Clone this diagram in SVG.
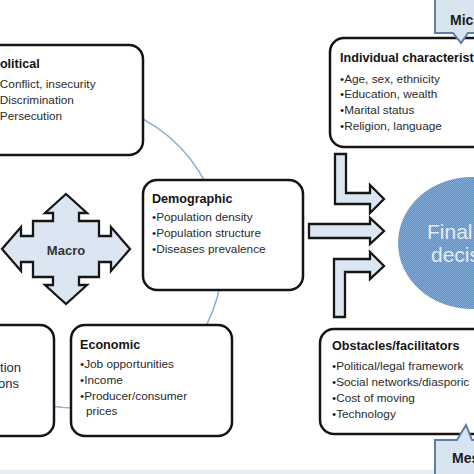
<svg xmlns="http://www.w3.org/2000/svg" width="474" height="474" viewBox="0 0 474 474">
<defs>
<pattern id="dither" width="2" height="2" patternUnits="userSpaceOnUse">
<rect width="2" height="2" fill="#5a8ecb"/>
<rect width="1" height="1" fill="#86aedb"/>
<rect x="1" y="1" width="1" height="1" fill="#86aedb"/>
</pattern>
<style>
.box{fill:#ffffff;stroke:#141414;stroke-width:2.5}
.title{font-family:"Liberation Sans",Arial,sans-serif;font-weight:bold;font-size:12.6px;fill:#141414}
.item{font-family:"Liberation Sans",Arial,sans-serif;font-size:11.8px;fill:#2a2a2a}
.blk{fill:#dce6f2;stroke:#161616;stroke-width:2.3;stroke-linejoin:miter}
.call{fill:#d9e4f1;stroke:#5d7fa6;stroke-width:2}
.calltxt{font-family:"Liberation Sans",Arial,sans-serif;font-weight:bold;font-size:14px;fill:#1c1c1c}
.ring{fill:none;stroke:#8fb1d6;stroke-width:1.6}
.big{font-family:"Liberation Sans",Arial,sans-serif;font-size:21px;fill:#e2eaf4}
</style>
</defs>
<rect width="474" height="474" fill="#ffffff"/>
<rect x="0" y="470" width="474" height="4" fill="#e6ecf3"/>

<g id="connectors">
<ellipse class="ring" cx="75" cy="255" rx="148" ry="153"/>
<path class="blk" d="M335,154 H346 V193 H370 V185 L384,199 L370,213 V204 H335 Z"/>
<path class="blk" d="M309,224 H370 V218 L384,231 L370,244 V238 H309 Z"/>
<path class="blk" d="M334,259 H370 V252 L384,266 L370,279 V272 H345 V317 H334 Z"/>
</g>

<g id="macro">
<path class="blk" d="M66,194 L87,213 L79,213 L79,221 L99,221 L99,236 L111,236 L111,227 L130,249 L111,271 L111,262 L99,262 L99,277 L79,277 L79,285 L87,285 L66,304 L45,285 L53,285 L53,277 L33,277 L33,262 L21,262 L21,271 L2,249 L21,227 L21,236 L33,236 L33,221 L53,221 L53,213 L45,213 Z"/>
<text x="66" y="255" text-anchor="middle" style="font-family:'Liberation Sans',Arial,sans-serif;font-weight:bold;font-size:13px;fill:#333333">Macro</text>
</g>

<g id="political">
<rect class="box" x="-20" y="45" width="163" height="110" rx="14"/>
<text class="title" x="-8.5" y="68">Political</text>
<text class="item" x="-4.3" y="88">•Conflict, insecurity</text>
<text class="item" x="-4.3" y="104">•Discrimination</text>
<text class="item" x="-4.3" y="120">•Persecution</text>
</g>

<g id="demographic">
<rect class="box" x="143" y="180" width="160" height="110" rx="14"/>
<text class="title" x="152" y="203">Demographic</text>
<text class="item" x="152" y="221">•Population density</text>
<text class="item" x="152" y="237">•Population structure</text>
<text class="item" x="152" y="253">•Diseases prevalence</text>
</g>

<g id="environmental">
<rect class="box" x="-20" y="325" width="74" height="111" rx="14"/>
<text x="21" y="372" text-anchor="end" style="font-family:'Liberation Sans',Arial,sans-serif;font-size:13px;fill:#2a2a2a">ction</text>
<text x="19" y="388" text-anchor="end" style="font-family:'Liberation Sans',Arial,sans-serif;font-size:13px;fill:#2a2a2a">ons</text>
</g>

<g id="economic">
<rect class="box" x="71" y="325" width="161" height="111" rx="14"/>
<text class="title" x="80" y="349">Economic</text>
<text class="item" x="80" y="368">•Job opportunities</text>
<text class="item" x="80" y="384">•Income</text>
<text class="item" x="80" y="400">•Producer/consumer</text>
<text class="item" x="86" y="415">prices</text>
</g>

<g id="individual">
<rect class="box" x="330" y="38" width="170" height="109" rx="14"/>
<text class="title" x="340" y="62">Individual characteristics</text>
<text class="item" x="340" y="83">•Age, sex, ethnicity</text>
<text class="item" x="340" y="98">•Education, wealth</text>
<text class="item" x="340" y="114">•Marital status</text>
<text class="item" x="340" y="130">•Religion, language</text>
</g>

<g id="obstacles">
<rect class="box" x="320" y="329" width="180" height="105" rx="14"/>
<text class="title" x="332" y="350">Obstacles/facilitators</text>
<text class="item" x="332" y="370">•Political/legal framework</text>
<text class="item" x="332" y="386">•Social networks/diasporic</text>
<text class="item" x="332" y="402">•Cost of moving</text>
<text class="item" x="332" y="418">•Technology</text>
</g>

<g id="final">
<ellipse cx="472" cy="243" rx="74" ry="66" fill="url(#dither)"/>
<text class="big" x="427" y="239">Final</text>
<text class="big" x="431" y="262">decision</text>
</g>

<g id="micro">
<path class="call" d="M435,-3 H480 V33 H468 L461,43 L453,33 H435 Z"/>
<text class="calltxt" x="450" y="25">Micro</text>
</g>

<g id="meso">
<path class="call" d="M435,440 H457 L466,425 L472,440 H480 V480 H435 Z"/>
<text class="calltxt" x="452" y="463">Meso</text>
</g>
</svg>
